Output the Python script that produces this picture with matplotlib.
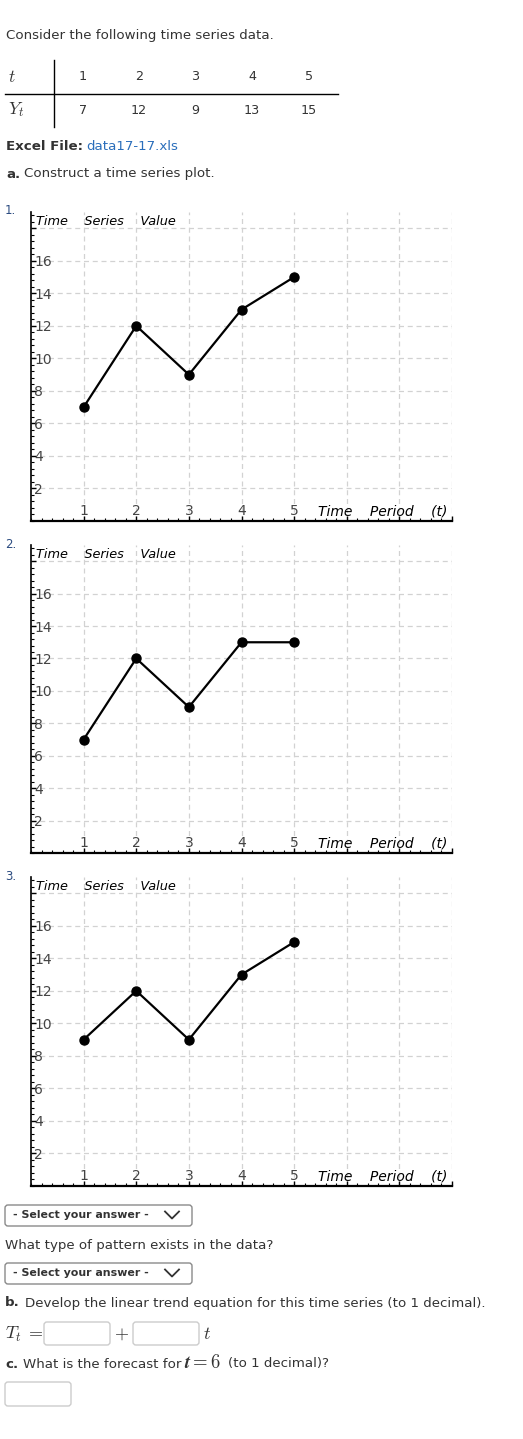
import matplotlib
matplotlib.use("Agg")
import matplotlib.pyplot as plt
from matplotlib.patches import FancyBboxPatch
from matplotlib.ticker import MultipleLocator

plt.rcParams['font.family'] = ['DejaVu Sans']
plt.rcParams['mathtext.fontset'] = 'cm'

# data from the table
t_vals = [1, 2, 3, 4, 5]
y_vals = [7, 12, 9, 13, 15]

# the three candidate plots
option_labels = ['1.', '2.', '3.']
option_series = [
    [7, 12, 9, 13, 15],
    [7, 12, 9, 13, 13],
    [9, 12, 9, 13, 15],
]

W, H = 523, 1439
TXT = '#333333'
LINK = '#2a6ebb'

fig = plt.figure(figsize=(W / 100, H / 100), dpi=100)

# page layer in pixel coordinates
bg = fig.add_axes([0, 0, 1, 1])
bg.set_xlim(0, W)
bg.set_ylim(H, 0)
bg.axis('off')

fs = 9.6

bg.text(6, 35, 'Consider the following time series data.', fontsize=fs, color=TXT, va='center')

# table
col_x = [83, 139, 195, 252, 309]
bg.text(12, 77, '$t$', fontsize=12.5, color=TXT, ha='center', va='center')
bg.text(16, 110, '$Y_t$', fontsize=12.5, color=TXT, ha='center', va='center')
for cx, tv, yv in zip(col_x, t_vals, y_vals):
    bg.text(cx, 77, str(tv), fontsize=9.2, color=TXT, ha='center', va='center')
    bg.text(cx, 110, str(yv), fontsize=9.2, color=TXT, ha='center', va='center')
bg.plot([54, 54], [60, 127], color='black', lw=1)
bg.plot([5, 338], [93.5, 93.5], color='black', lw=1)

bg.text(6, 146, 'Excel File:', fontsize=fs, color=TXT, weight='bold', va='center')
bg.text(86, 146, 'data17-17.xls', fontsize=fs, color=LINK, va='center')
bg.text(6, 174, 'a.', fontsize=fs, color=TXT, weight='bold', va='center')
bg.text(24, 174, 'Construct a time series plot.', fontsize=fs, color=TXT, va='center')

# charts: (top, bottom) pixel rows of each plotting area
chart_rows = [(212, 521), (545, 853), (877, 1186)]
left_px, right_px = 31, 452

for lab, series, (top, bot) in zip(option_labels, option_series, chart_rows):
    bg.text(5, top - 1, lab, fontsize=8.5, color='#2b4b80', va='center')
    ax = fig.add_axes([left_px / W, 1 - bot / H, (right_px - left_px) / W, (bot - top) / H])
    ax.patch.set_alpha(0)
    ax.set_xlim(0, 8)
    ax.set_ylim(0, 19)
    ax.set_xticks(range(1, 9))
    ax.set_xticklabels(['1', '2', '3', '4', '5', '', '', ''])
    ax.set_yticks(range(2, 19, 2))
    ax.set_yticklabels(['2', '4', '6', '8', '10', '12', '14', '16', ''])
    ax.xaxis.set_minor_locator(MultipleLocator(0.2))
    ax.yaxis.set_minor_locator(MultipleLocator(0.4))
    ax.grid(True, which='major', color='#d2d2d2', linestyle=(0, (4, 3)), lw=0.9)
    ax.set_axisbelow(True)
    ax.tick_params(which='major', direction='in', length=3.5, width=1, color='black',
                   labelsize=10, labelcolor='#444444')
    ax.tick_params(which='minor', direction='in', length=2, width=0.8, color='black')
    ax.tick_params(axis='y', pad=-2.5)
    ax.tick_params(axis='x', pad=-2.5)
    for tl in ax.get_yticklabels():
        tl.set_horizontalalignment('left')
    for tl in ax.get_xticklabels():
        tl.set_verticalalignment('bottom')
    for s in ['top', 'right']:
        ax.spines[s].set_visible(False)
    ax.spines['left'].set_linewidth(1.2)
    ax.spines['bottom'].set_linewidth(1.6)
    ax.plot(t_vals, series, color='black', lw=1.6, marker='o', markersize=6.5, zorder=5)
    ax.text(0.012, 0.968, 'Time    Series    Value', transform=ax.transAxes, fontsize=9.3,
            style='italic', color='black', ha='left', va='center')
    ax.text(0.988, 0.032, 'Time    Period    (t)', transform=ax.transAxes, fontsize=10,
            style='italic', color='black', ha='right', va='center')


def box(x0, y0, x1, y1, ec):
    bg.add_patch(FancyBboxPatch((x0, y0), x1 - x0, y1 - y0,
                                boxstyle='round,pad=0,rounding_size=3',
                                fc='white', ec=ec, lw=1))


def dropdown(y0, y1):
    box(5, y0, 192, y1, '#8a8a8a')
    yc = (y0 + y1) / 2
    bg.text(13, yc, '- Select your answer -', fontsize=7.95, weight='bold', color=TXT, va='center')
    bg.plot([165, 172, 179], [yc - 4, yc + 3, yc - 4], color='#333333', lw=1.3)


dropdown(1205, 1226)
bg.text(5, 1245, 'What type of pattern exists in the data?', fontsize=fs, color=TXT, va='center')
dropdown(1263, 1284)

bg.text(5, 1303, 'b.', fontsize=fs, color=TXT, weight='bold', va='center')
bg.text(25, 1303, 'Develop the linear trend equation for this time series (to 1 decimal).',
        fontsize=fs, color=TXT, va='center')

bg.text(5, 1334, r'$T_t\;=$', fontsize=13, color=TXT, va='center')
box(44, 1322, 110, 1345, '#cccccc')
bg.text(122, 1334, '$+$', fontsize=13, color=TXT, ha='center', va='center')
box(133, 1322, 199, 1345, '#cccccc')
bg.text(207, 1334, '$t$', fontsize=13, color=TXT, ha='center', va='center')

bg.text(5, 1364, 'c.', fontsize=fs, color=TXT, weight='bold', va='center')
bg.text(23, 1364, 'What is the forecast for', fontsize=fs, color=TXT, va='center')
bg.text(184, 1363, r'$\boldsymbol{t} = \mathbf{6}$', fontsize=13.5, color=TXT, va='center')
bg.text(228, 1364, '(to 1 decimal)?', fontsize=fs, color=TXT, va='center')
box(5, 1382, 71, 1406, '#cccccc')

fig.savefig('out.png', dpi=100)
